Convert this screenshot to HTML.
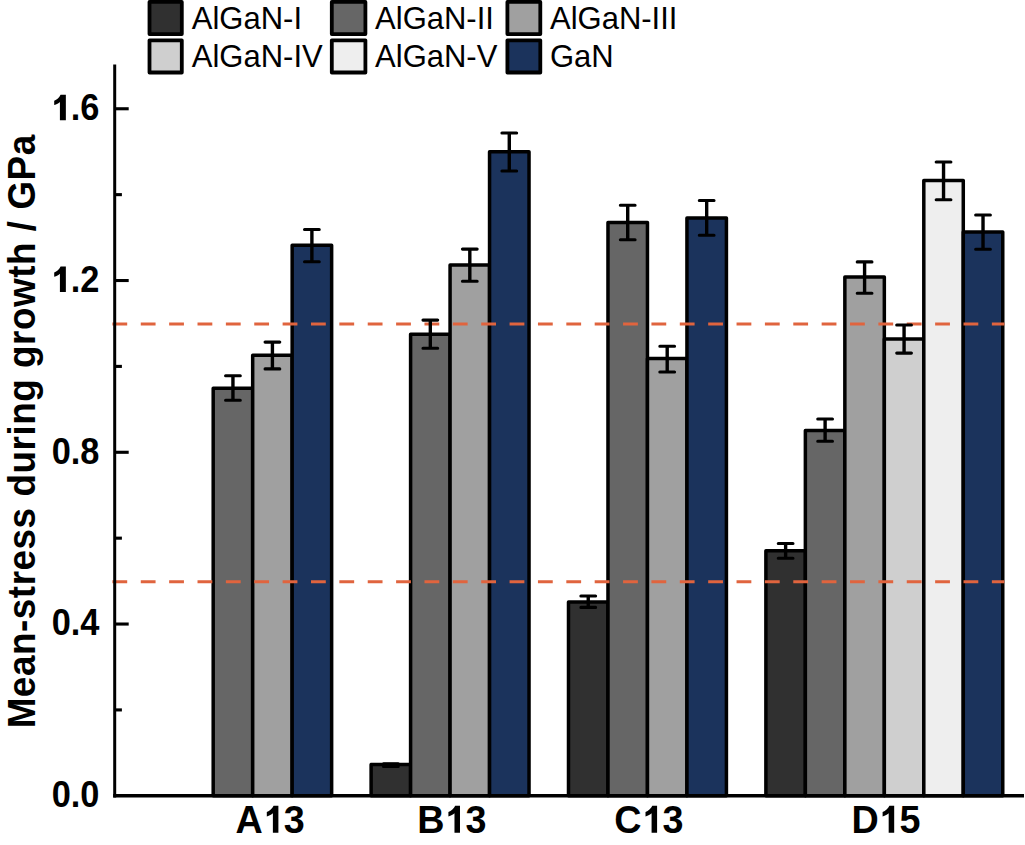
<!DOCTYPE html>
<html><head><meta charset="utf-8"><style>
html,body{margin:0;padding:0;background:#fff;}
body{width:1025px;height:845px;overflow:hidden;}
svg{display:block;font-family:"Liberation Sans",sans-serif;}
</style></head><body>
<svg width="1025" height="845" viewBox="0 0 1025 845">
<rect width="1025" height="845" fill="#fff"/>
<rect x="213.20" y="388.30" width="39.48" height="407.50" fill="#666666" stroke="#000" stroke-width="3.5" stroke-linejoin="round"/>
<rect x="252.68" y="355.30" width="39.48" height="440.50" fill="#a0a0a0" stroke="#000" stroke-width="3.5" stroke-linejoin="round"/>
<rect x="292.16" y="245.15" width="39.48" height="550.65" fill="#1b335c" stroke="#000" stroke-width="3.5" stroke-linejoin="round"/>
<rect x="371.11" y="764.40" width="39.48" height="31.40" fill="#303030" stroke="#000" stroke-width="3.5" stroke-linejoin="round"/>
<rect x="410.59" y="334.30" width="39.48" height="461.50" fill="#666666" stroke="#000" stroke-width="3.5" stroke-linejoin="round"/>
<rect x="450.07" y="265.00" width="39.48" height="530.80" fill="#a0a0a0" stroke="#000" stroke-width="3.5" stroke-linejoin="round"/>
<rect x="489.55" y="151.80" width="39.48" height="644.00" fill="#1b335c" stroke="#000" stroke-width="3.5" stroke-linejoin="round"/>
<rect x="568.50" y="602.00" width="39.48" height="193.80" fill="#303030" stroke="#000" stroke-width="3.5" stroke-linejoin="round"/>
<rect x="607.98" y="222.60" width="39.48" height="573.20" fill="#666666" stroke="#000" stroke-width="3.5" stroke-linejoin="round"/>
<rect x="647.46" y="358.60" width="39.48" height="437.20" fill="#a0a0a0" stroke="#000" stroke-width="3.5" stroke-linejoin="round"/>
<rect x="686.94" y="218.00" width="39.48" height="577.80" fill="#1b335c" stroke="#000" stroke-width="3.5" stroke-linejoin="round"/>
<rect x="765.89" y="550.70" width="39.48" height="245.10" fill="#303030" stroke="#000" stroke-width="3.5" stroke-linejoin="round"/>
<rect x="805.37" y="430.40" width="39.48" height="365.40" fill="#666666" stroke="#000" stroke-width="3.5" stroke-linejoin="round"/>
<rect x="844.85" y="277.00" width="39.48" height="518.80" fill="#a0a0a0" stroke="#000" stroke-width="3.5" stroke-linejoin="round"/>
<rect x="884.33" y="338.90" width="39.48" height="456.90" fill="#cfcfcf" stroke="#000" stroke-width="3.5" stroke-linejoin="round"/>
<rect x="923.80" y="180.55" width="39.48" height="615.25" fill="#eeeeee" stroke="#000" stroke-width="3.5" stroke-linejoin="round"/>
<rect x="963.28" y="232.00" width="39.48" height="563.80" fill="#1b335c" stroke="#000" stroke-width="3.5" stroke-linejoin="round"/>
<path d="M112.4 324.0H1004.4" stroke="#e0643e" stroke-width="2.9" stroke-dasharray="14.8 13.57"/>
<path d="M112.4 581.8H1004.4" stroke="#e0643e" stroke-width="2.9" stroke-dasharray="14.8 13.57"/>
<path d="M232.94 375.70V400.20" stroke="#000" stroke-width="3.4"/>
<path d="M225.59 375.70H240.29M225.59 400.20H240.29" stroke="#000" stroke-width="3.1" stroke-linecap="round"/>
<path d="M272.42 342.10V368.90" stroke="#000" stroke-width="3.4"/>
<path d="M265.07 342.10H279.77M265.07 368.90H279.77" stroke="#000" stroke-width="3.1" stroke-linecap="round"/>
<path d="M311.89 229.50V261.70" stroke="#000" stroke-width="3.4"/>
<path d="M304.54 229.50H319.25M304.54 261.70H319.25" stroke="#000" stroke-width="3.1" stroke-linecap="round"/>
<path d="M390.85 763.90V766.50" stroke="#000" stroke-width="3.4"/>
<path d="M383.50 763.90H398.20M383.50 766.50H398.20" stroke="#000" stroke-width="3.1" stroke-linecap="round"/>
<path d="M430.33 320.10V348.20" stroke="#000" stroke-width="3.4"/>
<path d="M422.98 320.10H437.68M422.98 348.20H437.68" stroke="#000" stroke-width="3.1" stroke-linecap="round"/>
<path d="M469.81 249.10V281.20" stroke="#000" stroke-width="3.4"/>
<path d="M462.46 249.10H477.16M462.46 281.20H477.16" stroke="#000" stroke-width="3.1" stroke-linecap="round"/>
<path d="M509.28 133.00V171.00" stroke="#000" stroke-width="3.4"/>
<path d="M501.93 133.00H516.63M501.93 171.00H516.63" stroke="#000" stroke-width="3.1" stroke-linecap="round"/>
<path d="M588.24 596.00V607.40" stroke="#000" stroke-width="3.4"/>
<path d="M580.89 596.00H595.59M580.89 607.40H595.59" stroke="#000" stroke-width="3.1" stroke-linecap="round"/>
<path d="M627.72 205.30V239.70" stroke="#000" stroke-width="3.4"/>
<path d="M620.37 205.30H635.07M620.37 239.70H635.07" stroke="#000" stroke-width="3.1" stroke-linecap="round"/>
<path d="M667.20 346.20V372.00" stroke="#000" stroke-width="3.4"/>
<path d="M659.85 346.20H674.55M659.85 372.00H674.55" stroke="#000" stroke-width="3.1" stroke-linecap="round"/>
<path d="M706.67 200.50V235.30" stroke="#000" stroke-width="3.4"/>
<path d="M699.32 200.50H714.02M699.32 235.30H714.02" stroke="#000" stroke-width="3.1" stroke-linecap="round"/>
<path d="M785.63 543.50V558.20" stroke="#000" stroke-width="3.4"/>
<path d="M778.28 543.50H792.98M778.28 558.20H792.98" stroke="#000" stroke-width="3.1" stroke-linecap="round"/>
<path d="M825.11 419.00V441.30" stroke="#000" stroke-width="3.4"/>
<path d="M817.76 419.00H832.46M817.76 441.30H832.46" stroke="#000" stroke-width="3.1" stroke-linecap="round"/>
<path d="M864.59 261.90V293.20" stroke="#000" stroke-width="3.4"/>
<path d="M857.24 261.90H871.94M857.24 293.20H871.94" stroke="#000" stroke-width="3.1" stroke-linecap="round"/>
<path d="M904.07 325.00V353.10" stroke="#000" stroke-width="3.4"/>
<path d="M896.72 325.00H911.42M896.72 353.10H911.42" stroke="#000" stroke-width="3.1" stroke-linecap="round"/>
<path d="M943.54 162.00V199.70" stroke="#000" stroke-width="3.4"/>
<path d="M936.19 162.00H950.89M936.19 199.70H950.89" stroke="#000" stroke-width="3.1" stroke-linecap="round"/>
<path d="M983.02 215.00V249.20" stroke="#000" stroke-width="3.4"/>
<path d="M975.67 215.00H990.37M975.67 249.20H990.37" stroke="#000" stroke-width="3.1" stroke-linecap="round"/>
<path d="M114.7 64.6V797.5" stroke="#000" stroke-width="3"/>
<path d="M113.2 795.8H1024" stroke="#000" stroke-width="3.6"/>
<path d="M114.7 624.04H128.7" stroke="#000" stroke-width="3.1"/>
<path d="M114.7 452.28H128.7" stroke="#000" stroke-width="3.1"/>
<path d="M114.7 280.52H128.7" stroke="#000" stroke-width="3.1"/>
<path d="M114.7 108.76H128.7" stroke="#000" stroke-width="3.1"/>
<path d="M114.7 709.92H121.9" stroke="#000" stroke-width="3.1"/>
<path d="M114.7 538.16H121.9" stroke="#000" stroke-width="3.1"/>
<path d="M114.7 366.40H121.9" stroke="#000" stroke-width="3.1"/>
<path d="M114.7 194.64H121.9" stroke="#000" stroke-width="3.1"/>
<text transform="translate(51.68 807.20) scale(1 1.075)" font-weight="bold" font-size="34.4">0.0</text>
<text transform="translate(51.68 635.44) scale(1 1.075)" font-weight="bold" font-size="34.4">0.4</text>
<text transform="translate(51.68 463.68) scale(1 1.075)" font-weight="bold" font-size="34.4">0.8</text>
<path transform="translate(51.68 291.92) scale(0.01680 -0.01806)" d="M844 0L490 0L490 1010C405 940 305 885 150 840L150 1080C305 1140 455 1250 530 1409L844 1409Z"/>
<text transform="translate(70.81 291.92) scale(1 1.075)" font-weight="bold" font-size="34.4">.2</text>
<path transform="translate(51.68 120.16) scale(0.01680 -0.01806)" d="M844 0L490 0L490 1010C405 940 305 885 150 840L150 1080C305 1140 455 1250 530 1409L844 1409Z"/>
<text transform="translate(70.81 120.16) scale(1 1.075)" font-weight="bold" font-size="34.4">.6</text>
<text transform="translate(235.62 832.70) scale(1 1.04)" font-weight="bold" font-size="37.7">A</text>
<path transform="translate(262.85 832.70) scale(0.01841 -0.01914)" d="M844 0L545 0L545 1010C460 940 370 885 215 840L215 1080C370 1140 510 1250 585 1409L844 1409Z"/>
<text transform="translate(283.81 832.70) scale(1 1.04)" font-weight="bold" font-size="37.7">3</text>
<text transform="translate(417.22 832.70) scale(1 1.04)" font-weight="bold" font-size="37.7">B</text>
<path transform="translate(444.45 832.70) scale(0.01841 -0.01914)" d="M844 0L545 0L545 1010C460 940 370 885 215 840L215 1080C370 1140 510 1250 585 1409L844 1409Z"/>
<text transform="translate(465.41 832.70) scale(1 1.04)" font-weight="bold" font-size="37.7">3</text>
<text transform="translate(614.32 832.70) scale(1 1.04)" font-weight="bold" font-size="37.7">C</text>
<path transform="translate(641.55 832.70) scale(0.01841 -0.01914)" d="M844 0L545 0L545 1010C460 940 370 885 215 840L215 1080C370 1140 510 1250 585 1409L844 1409Z"/>
<text transform="translate(662.51 832.70) scale(1 1.04)" font-weight="bold" font-size="37.7">3</text>
<text transform="translate(851.42 832.70) scale(1 1.04)" font-weight="bold" font-size="37.7">D</text>
<path transform="translate(878.65 832.70) scale(0.01841 -0.01914)" d="M844 0L545 0L545 1010C460 940 370 885 215 840L215 1080C370 1140 510 1250 585 1409L844 1409Z"/>
<text transform="translate(899.61 832.70) scale(1 1.04)" font-weight="bold" font-size="37.7">5</text>
<text transform="translate(35.2 431.3) rotate(-90) scale(1 1.03)" text-anchor="middle" font-weight="bold" font-size="36.8" letter-spacing="0.57">Mean-stress during growth / GPa</text>
<rect x="149.50" y="1.90" width="32.30" height="32.20" fill="#303030" stroke="#000" stroke-width="3.8" stroke-linejoin="round"/>
<text transform="translate(191.8 28.9) scale(1 1.035)" font-size="31">AlGaN-I</text>
<rect x="331.80" y="1.90" width="33.60" height="32.20" fill="#666666" stroke="#000" stroke-width="3.8" stroke-linejoin="round"/>
<text transform="translate(375.1 28.9) scale(1 1.035)" font-size="31">AlGaN-II</text>
<rect x="507.40" y="1.90" width="32.90" height="32.20" fill="#a0a0a0" stroke="#000" stroke-width="3.8" stroke-linejoin="round"/>
<text transform="translate(550.0 28.9) scale(1 1.035)" font-size="31">AlGaN-III</text>
<rect x="149.50" y="40.30" width="32.30" height="32.20" fill="#cfcfcf" stroke="#000" stroke-width="3.8" stroke-linejoin="round"/>
<text transform="translate(191.8 67.1) scale(1 1.035)" font-size="31">AlGaN-IV</text>
<rect x="331.80" y="40.30" width="33.60" height="32.20" fill="#eeeeee" stroke="#000" stroke-width="3.8" stroke-linejoin="round"/>
<text transform="translate(375.1 67.1) scale(1 1.035)" font-size="31">AlGaN-V</text>
<rect x="507.40" y="40.30" width="32.90" height="32.20" fill="#1b335c" stroke="#000" stroke-width="3.8" stroke-linejoin="round"/>
<text transform="translate(550.0 67.1) scale(1 1.035)" font-size="31">GaN</text>
</svg>
</body></html>
